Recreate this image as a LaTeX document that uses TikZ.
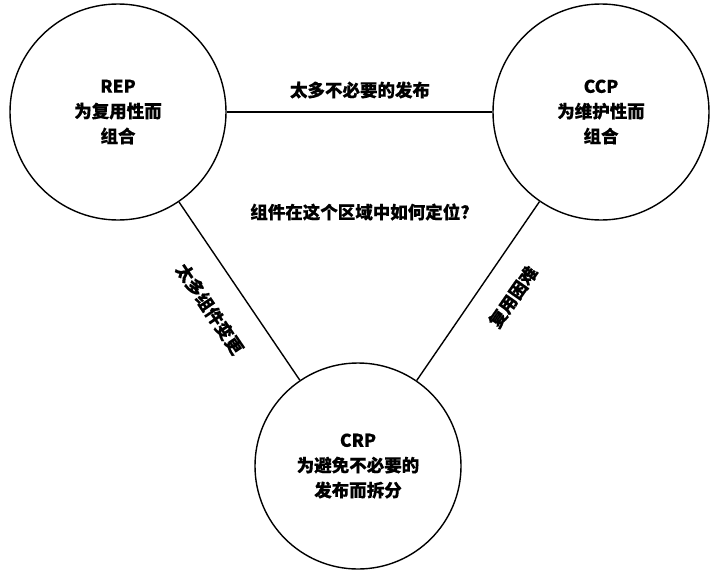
\documentclass[tikz,border=0pt]{standalone}
\usepackage{fontspec}
\setmainfont{Noto Sans CJK SC}[FakeBold=0.35]
\begin{document}
\begin{tikzpicture}[x=1pt,y=-1pt,
  bubble/.style={circle,draw,line width=1.4pt,align=center,font=\bfseries\fontsize{17.5}{25}\selectfont},
  lbl/.style={font=\bfseries\fontsize{17.5}{20}\selectfont}]
\useasboundingbox (0,0) rectangle (722,573);
\node[bubble,minimum size=216pt] (rep) at (118,112) {REP\\为复用性而\\组合};
\node[bubble,minimum size=216pt] (ccp) at (601,112) {CCP\\为维护性而\\组合};
\node[bubble,minimum size=206pt] (crp) at (358,466) {CRP\\为避免不必要的\\发布而拆分};
\draw[line width=1.4pt] (rep) -- (ccp);
\draw[line width=1.4pt] (rep) -- (crp);
\draw[line width=1.4pt] (ccp) -- (crp);
\node[lbl] (t1) at (360,90) {太多不必要的发布};
\node[lbl] (t2) at (360,212) {组件在这个区域中如何定位?};
\node[lbl,rotate=-56] (t3) at (210,309) {太多组件变更};
\node[lbl,rotate=55] (t4) at (513,297) {复用困难};
\end{tikzpicture}
\end{document}
